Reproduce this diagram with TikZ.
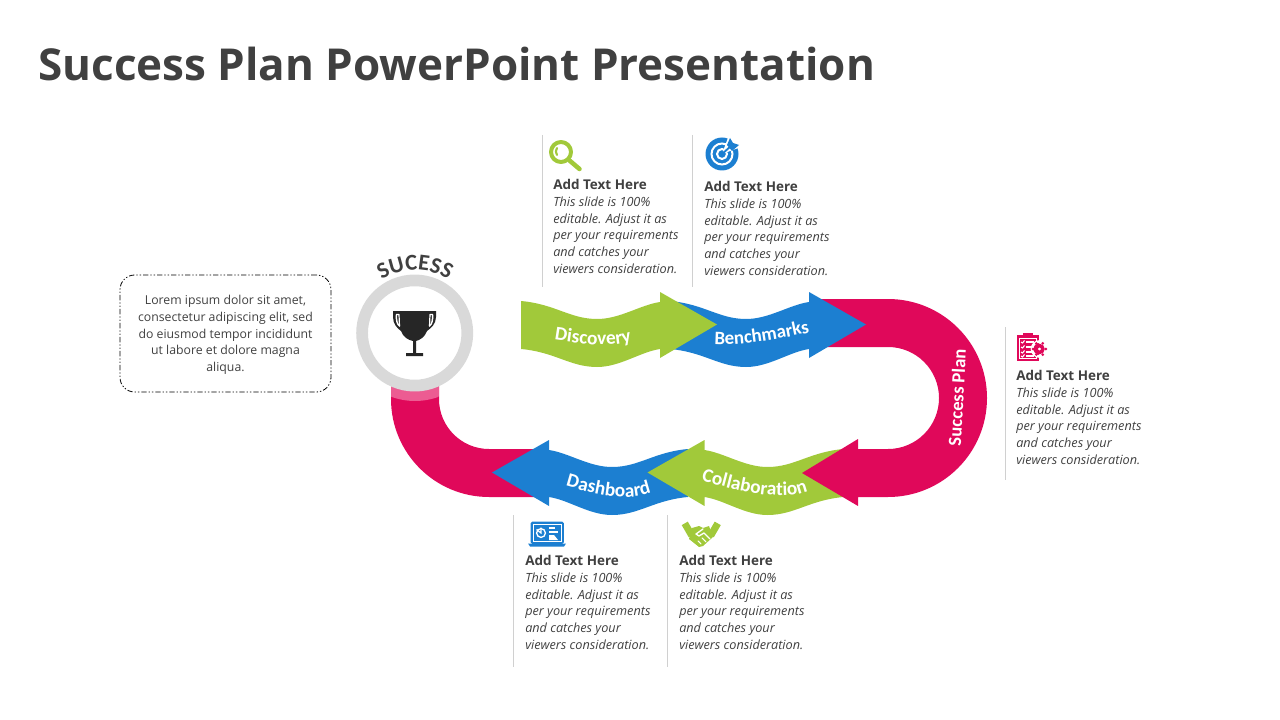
\documentclass[tikz,border=0pt]{standalone}
\usepackage{fontspec}
\setmainfont{Open Sans}
\newfontfamily\labelfont{Carlito}
\usepackage{xcolor}
\usetikzlibrary{calc,decorations.text}
\definecolor{PlanPink}{RGB}{224, 8, 90}
\definecolor{PaleBand}{RGB}{236, 92, 146}
\definecolor{PlanGreen}{RGB}{161, 201, 58}
\definecolor{PlanBlue}{RGB}{28, 127, 209}
\definecolor{DarkText}{RGB}{64, 64, 64}
\definecolor{SepGrey}{RGB}{208, 208, 208}
\definecolor{RingGrey}{RGB}{217, 217, 217}
\definecolor{CupBlack}{RGB}{38, 38, 38}
\newcommand{\blocktext}{{\fontsize{10.1}{12.6}\selectfont\textbf{Add Text Here}}\\ \textit{This slide is 100\%}\\ \textit{editable. Adjust it as}\\ \textit{per your requirements}\\ \textit{and catches your}\\ \textit{viewers consideration.}}
% wave arrow, tail on the left and tip on the right
\newcommand{\wavepath}{(521,301) .. controls (555,304) and (570,319) .. (597,319) .. controls (620,319) and (640,305) .. (660,302) -- (660,292) -- (717,324.5) -- (660,358) -- (660,349) .. controls (640,352) and (620,367) .. (597,367) .. controls (570,367) and (555,352) .. (521,349) -- cycle}
\begin{document}
\begin{tikzpicture}[x=0.75pt, y=-0.75pt,
  sep/.style={draw=SepGrey, line width=0.6pt},
  txtblk/.style={anchor=north west, align=left, inner sep=0pt, text=DarkText, font=\fontsize{9.5}{12.6}\selectfont},
  wavetxt/.style={decorate, decoration={text along path, text align=center, text={#1}}},
  icon/.style={line cap=round, line join=round}]
  \useasboundingbox (0,0) rectangle (1280,720);
  \node[anchor=west, inner sep=0pt, text=DarkText, font=\fontsize{33}{38}\selectfont\bfseries] (title) at (38,64) {Success Plan PowerPoint Presentation};

  % lower left band and the ring
  \fill[PlanPink] (391,333) -- (391,399) arc[start angle=180, end angle=90, radius=98] -- (540,497) -- (540,449) -- (489,449) arc[start angle=90, end angle=180, radius=50] -- (439,333) -- cycle;
  \begin{scope}
    \clip (415,333) circle (68);
    \fill[PaleBand] (391,380) rectangle (439,410);
  \end{scope}
  \node[circle, draw=RingGrey, fill=white, line width=8.8pt, minimum size=93.5*0.75pt+8.8pt, inner sep=0pt] (ring) at (414.7,333) {};

  % lower waves, mirrored
  \begin{scope}[xshift=1209*0.75pt, x=-0.75pt, yshift=-148*0.75pt]
    \fill[PlanBlue] \wavepath;
  \end{scope}
  \begin{scope}[xshift=1364.5*0.75pt, x=-0.75pt, yshift=-148*0.75pt]
    \fill[PlanGreen] \wavepath;
  \end{scope}

  % U band
  \fill[PlanPink] (820,299) -- (888,299) arc[start angle=-90, end angle=90, radius=99] -- (858,497) -- (858,506) -- (802,473) -- (858,439) -- (858,449) -- (888,449) arc[start angle=90, end angle=-90, radius=51] -- (820,347) -- cycle;

  % upper waves
  \begin{scope}[xshift=149*0.75pt]
    \fill[PlanBlue] \wavepath;
  \end{scope}
  \fill[PlanGreen] \wavepath;

  % wave labels
  \path[wavetxt={|\labelfont\fontsize{14.5}{16}\selectfont\bfseries\color{white}|Discovery}] (550,339) .. controls (575,343) and (610,349) .. (636,340);
  \path[wavetxt={|\labelfont\fontsize{14.2}{16}\selectfont\bfseries\color{white}|Benchmarks}] (712,344) .. controls (740,347) and (785,338) .. (812,332);
  \path[wavetxt={|\labelfont\fontsize{14.5}{16}\selectfont\bfseries\color{white}|Dashboard}] (566,486) .. controls (590,493) and (625,503) .. (651,493);
  \path[wavetxt={|\labelfont\fontsize{14.5}{16}\selectfont\bfseries\color{white}|Collaboration}] (701,480) .. controls (730,489) and (780,503) .. (808,491);
  \node[rotate=87, text=white, inner sep=0pt, font=\labelfont\fontsize{14}{16}\selectfont\bfseries] (plan) at (957,397.5) {Success Plan};
  \path[wavetxt={|\labelfont\fontsize{17}{18}\selectfont\bfseries\color{DarkText}|SUCESS}] (378.9,281.4) arc[start angle=-125, end angle=-55, radius=63];

  % lorem box
  \node[draw=black, line width=0.6pt, dash pattern=on 4pt off 1.5pt on 1pt off 1.5pt on 1pt off 1.5pt, rounded corners=11pt, minimum width=211*0.75pt, minimum height=117*0.75pt, inner sep=0pt, align=center, text=DarkText, font=\fontsize{9.2}{12.6}\selectfont] (lorem) at (225.5,333.5) {\rule{0pt}{9.2pt}Lorem ipsum dolor sit amet,\\ consectetur adipiscing elit, sed\\ do eiusmod tempor incididunt\\ ut labore et dolore magna\\ aliqua.};

  % text blocks with their rules
  \foreach \nm/\tx/\ty/\rx/\ra/\rb in {find/553/179/542.5/135/287, goal/704/181/692.5/135/287, tick/1016/370/1005.5/327/480, dash/525/555/513.5/515/667, deal/679/555/667.5/515/667}{
    \draw[sep] (\rx,\ra) -- (\rx,\rb);
    \node[txtblk] (\nm) at (\tx,\ty) {\blocktext};
  }

  % magnifier
  \draw[PlanGreen, line width=3pt, icon] (561,152) circle (10);
  \draw[PlanGreen, line width=3.4pt, icon] (569.5,160.5) -- (579.5,169);
  \draw[PlanGreen, line width=1.6pt, icon] (557,148) .. controls (555.5,150) and (555.5,153) .. (557,155);
  % target
  \fill[PlanBlue] (722,154) circle (16.5);
  \draw[white, line width=1.5pt] (722,154) circle (10.5);
  \draw[white, line width=1.5pt] (722,154) circle (5);
  \fill[white] (722,154) -- (729,135) -- (741,147) -- cycle;
  \fill[PlanBlue] (722,154) circle (2.8);
  \draw[PlanBlue, line width=1.4pt] (722,154) -- (731,146);
  \fill[PlanBlue] (727,145) -- (730,138) -- (733,143) -- (739,145) -- (732,151) -- cycle;
  % clipboard
  \fill[PlanPink] (1017,335) rectangle (1039,361);
  \fill[PlanPink] (1023,333) rectangle (1033,338);
  \draw[white, line width=0.7pt] (1019.5,338.5) rectangle (1036.5,358.5);
  \foreach \yy in {342,347,352,356}{
    \draw[white, line width=0.8pt] (1021,\yy) -- (1022.5,\yy+1) -- (1024.5,\yy-1.5);
    \draw[white, line width=0.8pt] (1026,\yy) -- (1034,\yy);
  }
  \draw[white, line width=2pt] (1039.5,349) circle (7.5);
  \draw[PlanPink, line width=2.6pt, fill=white] (1039.5,349) circle (3.4);
  \foreach \aa in {0,60,...,300}{
    \fill[PlanPink] ($(1039.5,349)+(\aa:6.4)$) circle (1.5);
  }
  % laptop
  \draw[PlanBlue, line width=1.2pt, fill=PlanBlue, rounded corners=0.8pt] (531.5,522.5) rectangle (563,543);
  \fill[PlanBlue] (528,543.5) -- (566,543.5) -- (564,546.5) -- (530,546.5) -- cycle;
  \draw[white, line width=0.6pt] (533.5,524.5) rectangle (561,541);
  \draw[white, line width=1pt] (541,533) circle (4.4);
  \draw[white, line width=0.9pt] (536.5,529.5) -- (541,533) -- (541,527.5);
  \fill[white] (549,527) rectangle (555,529);
  \fill[white] (549,531) rectangle (558,533);
  \fill[white] (549,535) -- (554,535) -- (558,540) -- (549,540) -- cycle;
  % handshake
  \fill[PlanGreen, rotate around={30:(688,529)}] (684.5,522.5) rectangle (691.5,536.5);
  \fill[PlanGreen, rotate around={-30:(714.5,529)}] (711,522.5) rectangle (718,536.5);
  \fill[PlanGreen] (692,528) -- (699,526) -- (703,528) -- (709,526) -- (713,537) -- (703,546) -- (699,547) -- (689,539) -- cycle;
  \draw[white, line width=1pt, icon] (703,529) -- (696,534) -- (699,536) -- (704,533) -- (710,539);
  \draw[white, line width=0.8pt, icon] (698,541) -- (701,544);
  \draw[white, line width=0.8pt, icon] (702,538) -- (706,542);

  % trophy
  \fill[CupBlack] (393,311) -- (436,311) -- (436,317) .. controls (436,324) and (431,328) .. (427,331) .. controls (425,337) and (420,340) .. (416,341) -- (416,353) -- (423,353) -- (423,356) -- (406,356) -- (406,353) -- (413,353) -- (413,341) .. controls (408,340) and (403,337) .. (401,331) .. controls (397,328) and (393,324) .. (393,317) -- cycle;
  \draw[white, line width=1.1pt, icon] (396.5,314.5) .. controls (396,320) and (397,324) .. (399.5,326);
  \draw[white, line width=0.9pt, icon] (396.5,314.5) -- (399,314.5) -- (399.5,326);
  \draw[white, line width=1.1pt, icon] (432.5,314.5) .. controls (433,320) and (432,324) .. (429.5,326);
  \draw[white, line width=0.9pt, icon] (432.5,314.5) -- (430,314.5) -- (429.5,326);
\end{tikzpicture}
\end{document}
